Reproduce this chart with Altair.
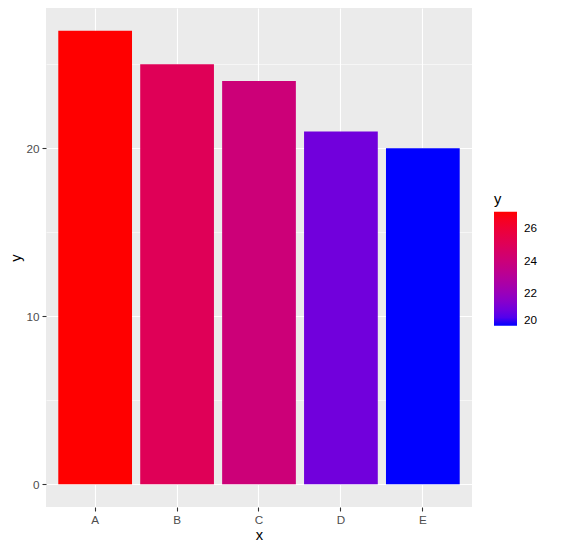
import altair as alt
import pandas as pd

# bar data
categories = ["A", "B", "C", "D", "E"]
values = [27, 25, 24, 21, 20]

df = pd.DataFrame({"x": categories, "y": values})

FONT = "Liberation Sans"
major = "datum.value % 10 === 0"

chart = (
    alt.Chart(df)
    .mark_bar()
    .encode(
        x=alt.X(
            "x:N",
            title="x",
            scale=alt.Scale(paddingInner=0.1, paddingOuter=0.15),
            axis=alt.Axis(
                labelAngle=0,
                grid=True,
                gridColor="white",
                gridWidth=1.1,
                bandPosition=0.5,
                domain=False,
                tickColor="#333333",
                tickWidth=1.1,
                tickSize=4,
                labelPadding=3,
                titlePadding=2,
            ),
        ),
        y=alt.Y(
            "y:Q",
            title="y",
            scale=alt.Scale(domain=[-1.35, 28.35], nice=False, zero=False),
            axis=alt.Axis(
                values=[0, 5, 10, 15, 20, 25],
                labelExpr="datum.value % 10 === 0 ? datum.label : ''",
                grid=True,
                gridColor="white",
                gridWidth=alt.condition(major, alt.value(1.1), alt.value(0.55)),
                tickOpacity=alt.condition(major, alt.value(1), alt.value(0)),
                domain=False,
                tickColor="#333333",
                tickWidth=1.1,
                tickSize=4,
                labelPadding=3,
                titlePadding=2,
            ),
        ),
        color=alt.Color(
            "y:Q",
            title="y",
            scale=alt.Scale(domain=[20, 27], range=["blue", "red"], interpolate="lab"),
            legend=alt.Legend(
                orient="none",
                legendX=448,
                legendY=184,
                values=[20, 22, 24, 26],
                gradientLength=114,
                gradientThickness=23,
                gradientStrokeWidth=0,
                labelBaseline="middle",
                labelOffset=7,
                titlePadding=5,
            ),
        ),
    )
    .properties(
        width=426,
        height=499,
        autosize=alt.AutoSizeParams(type="none"),
        padding={"left": 38, "top": 0, "right": 88, "bottom": 37},
    )
    .configure_view(fill="#EBEBEB", stroke=None)
    .configure_axis(
        labelFont=FONT,
        labelFontSize=11.7,
        labelColor="#4D4D4D",
        titleFont=FONT,
        titleFontSize=14.7,
        titleColor="black",
        titleFontWeight="normal",
    )
    .configure_legend(
        labelFont=FONT,
        labelFontSize=11.7,
        labelColor="black",
        titleFont=FONT,
        titleFontSize=14.7,
        titleColor="black",
        titleFontWeight="normal",
    )
)

chart.save("out.html", embed_options={"renderer": "svg", "actions": False})
